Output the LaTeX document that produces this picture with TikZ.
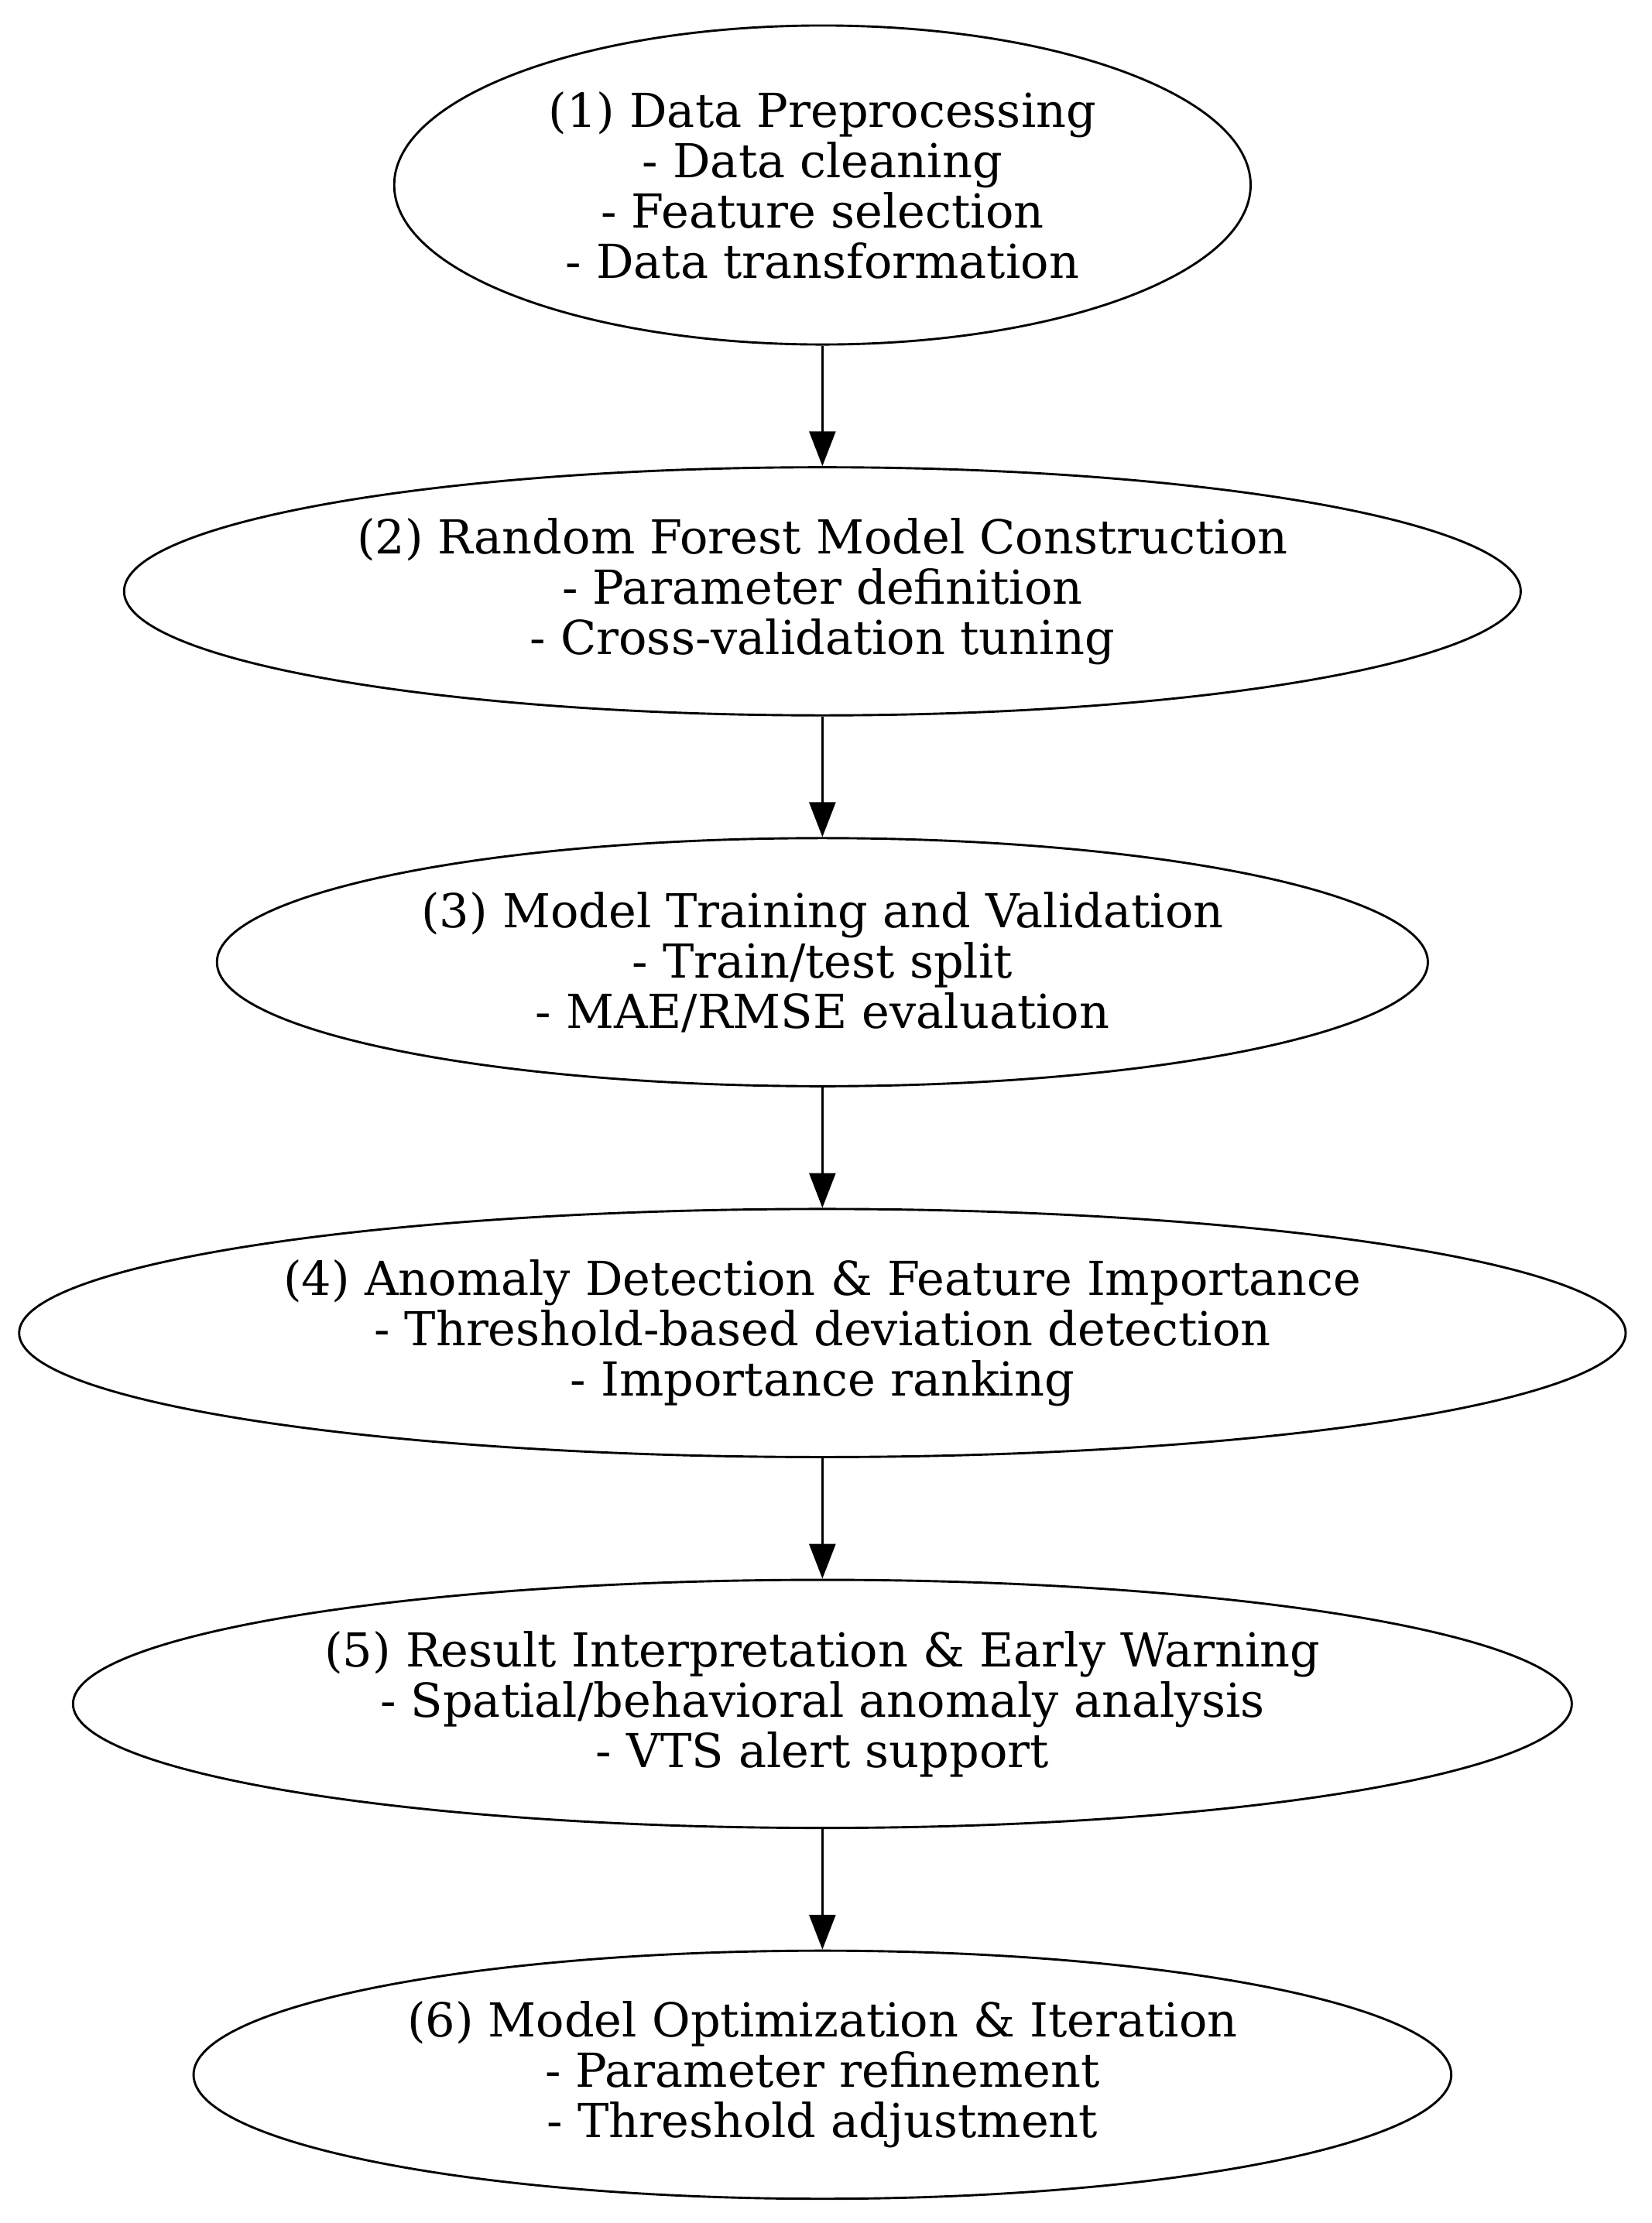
\documentclass[tikz,border=0pt]{standalone}
\usepackage{fontspec}
\setmainfont{DejaVu Serif}
\usepackage{tikz}
\usetikzlibrary{arrows.meta,positioning,shapes.geometric}

\begin{document}
\begin{tikzpicture}[node distance=1.70cm, every node/.style={font=\fontsize{18.8}{20.2}\selectfont}, stage/.style={draw,ellipse,line width=0.9pt,inner sep=0pt,minimum height=3.5cm,align=center}, arr/.style={-{Triangle[length=0.49cm,width=0.37cm]},line width=0.9pt}]
\useasboundingbox (0,0) rectangle (23.3,-31.36);
\node[stage,minimum width=12.08cm,minimum height=4.5cm] (prep) at (11.6,-2.61) {(1) Data Preprocessing\\- Data cleaning\\- Feature selection\\- Data transformation};
\node[stage,minimum width=19.7cm,below=of prep] (rf) {(2) Random Forest Model Construction\\- Parameter definition\\- Cross-validation tuning};
\node[stage,minimum width=17.08cm,below=of rf] (train) {(3) Model Training and Validation\\- Train/test split\\- MAE/RMSE evaluation};
\node[stage,minimum width=22.66cm,below=of train] (anom) {(4) Anomaly Detection \& Feature Importance\\- Threshold-based deviation detection\\- Importance ranking};
\node[stage,minimum width=21.14cm,below=of anom] (warn) {(5) Result Interpretation \& Early Warning\\- Spatial/behavioral anomaly analysis\\- VTS alert support};
\node[stage,minimum width=17.74cm,below=of warn] (opt) {(6) Model Optimization \& Iteration\\- Parameter refinement\\- Threshold adjustment};
\draw[arr] (prep)--(rf);
\draw[arr] (rf)--(train);
\draw[arr] (train)--(anom);
\draw[arr] (anom)--(warn);
\draw[arr] (warn)--(opt);
\end{tikzpicture}
\end{document}
